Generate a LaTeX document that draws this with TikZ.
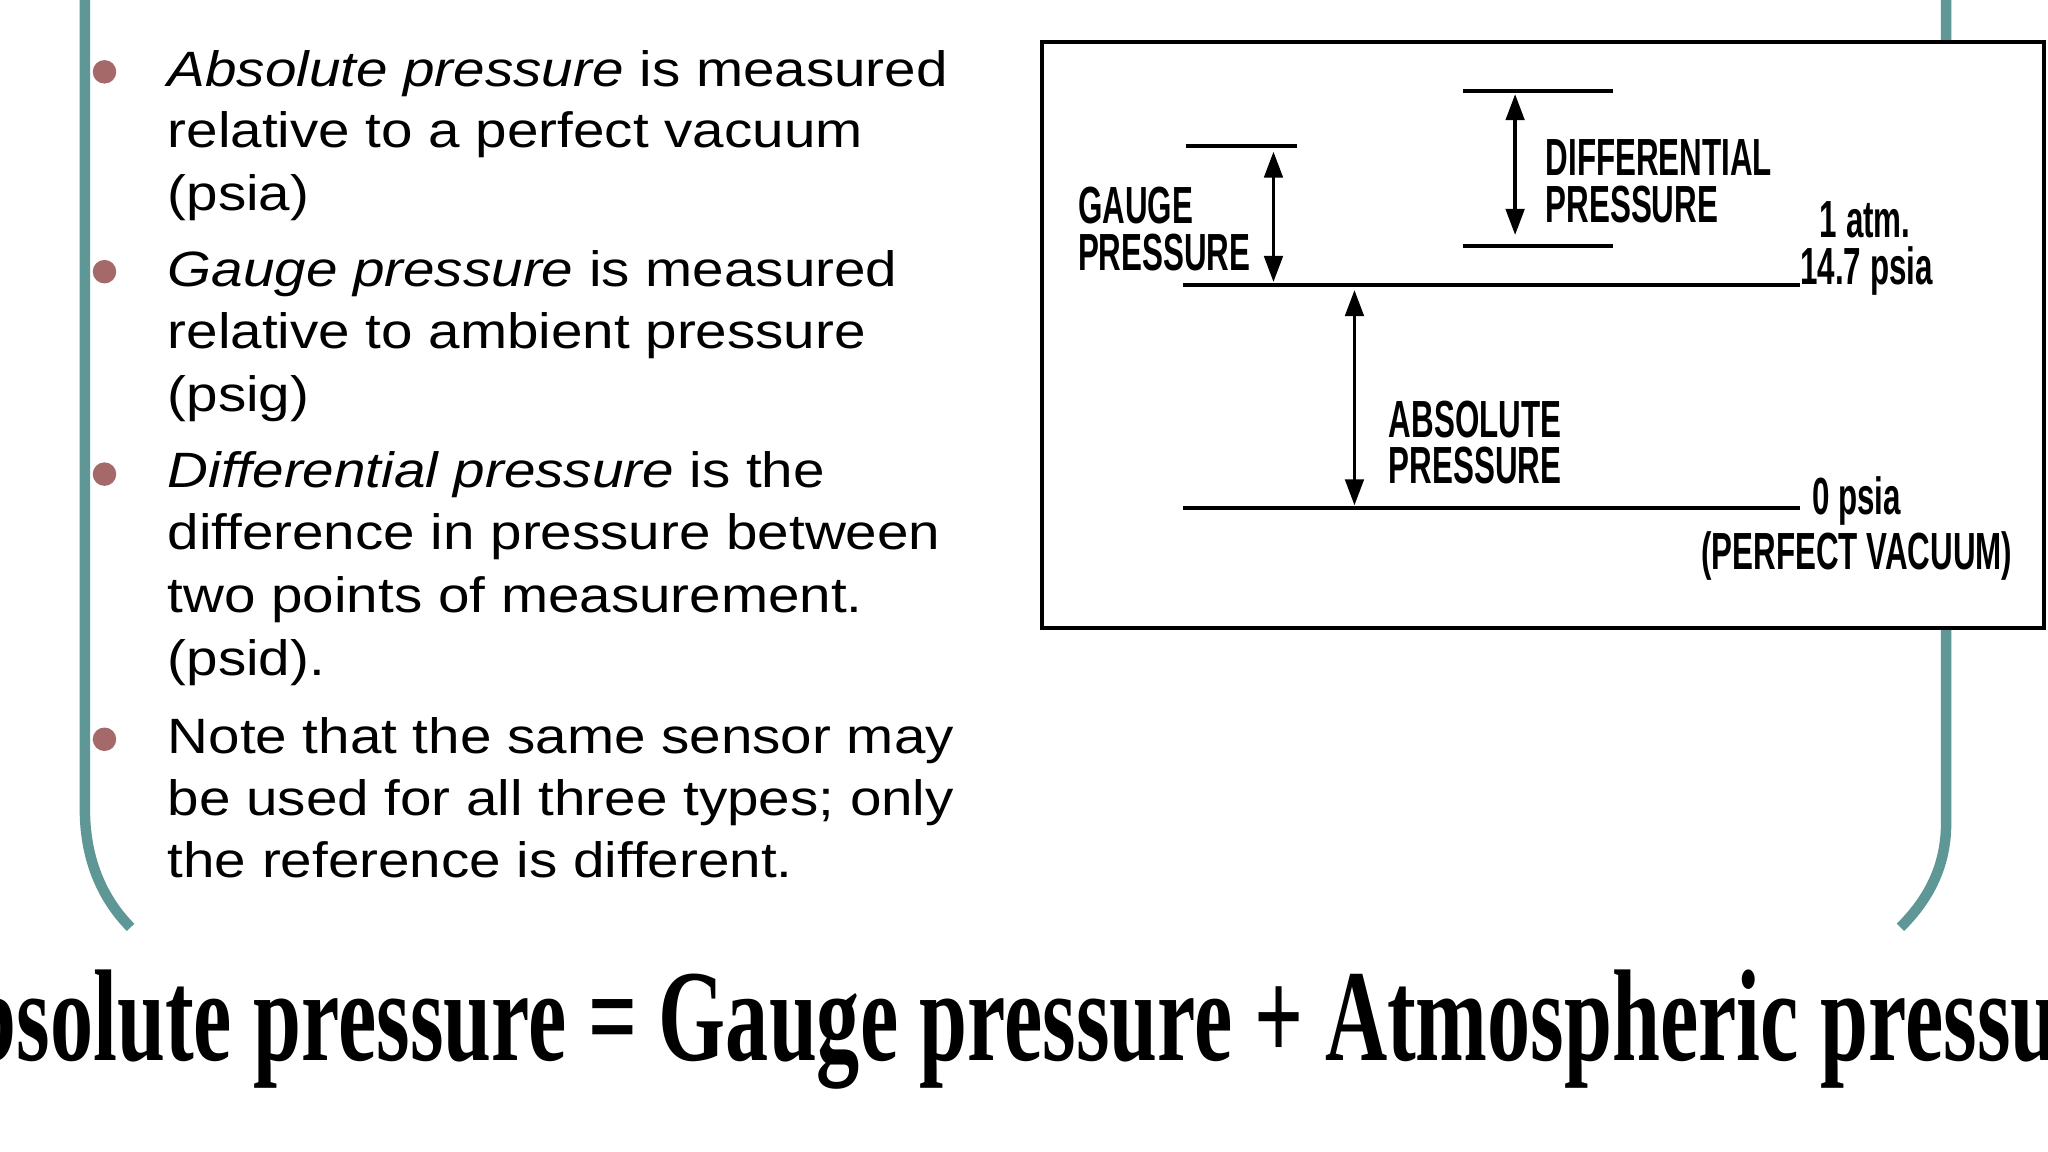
\documentclass[tikz,border=0pt]{standalone}
\usepackage{fontspec}
\setmainfont{Liberation Sans}
\newfontfamily\timesf{Liberation Serif}
\usetikzlibrary{arrows.meta}
\definecolor{frame}{RGB}{95,150,150}
\definecolor{dot}{RGB}{165,105,105}
\newcommand{\bw}[1]{\scalebox{1.14}[1]{#1}}
\newcommand{\lw}[1]{\scalebox{0.6}[1]{#1}}
\begin{document}
\begin{tikzpicture}[x=0.5pt,y=-0.5pt,
  body/.style={anchor=base west,inner sep=0,font=\fontsize{19}{23}\selectfont},
  lab/.style={anchor=base west,inner sep=0,font=\bfseries\fontsize{20}{24}\selectfont},
  lvl/.style={line width=1.5pt},
  dim/.style={line width=1.5pt,{Triangle[length=10pt,width=7pt]}-{Triangle[length=10pt,width=7pt]}}]
\useasboundingbox (0,0) rectangle (1568,882);
\fill[white] (0,0) rectangle (1568,882);
% frame
\draw[frame,line width=4pt] (65,0) -- (65,620) .. controls (65,660) and (80,690) .. (100,710);
\draw[frame,line width=4pt] (1490,0) -- (1490,630) .. controls (1490,665) and (1475,690) .. (1455,710);
% bullets
\foreach \y/\n in {55/b1,208/b2,363/b3,566/b4} \fill[dot] (80,\y) circle (4.5pt) node (\n) {};
% text
\node[body] (t1) at (128,66) {\bw{\textit{Absolute pressure} is measured}};
\node[body] (t2) at (128,113) {\bw{relative to a perfect vacuum}};
\node[body] (t3) at (128,161) {\bw{(psia)}};
\node[body] (t4) at (128,219) {\bw{\textit{Gauge pressure} is measured}};
\node[body] (t5) at (128,267) {\bw{relative to ambient pressure}};
\node[body] (t6) at (128,315) {\bw{(psig)}};
\node[body] (t7) at (128,373) {\bw{\textit{Differential pressure} is the}};
\node[body] (t8) at (128,421) {\bw{difference in pressure between}};
\node[body] (t9) at (128,469) {\bw{two points of measurement.}};
\node[body] (t10) at (128,517) {\bw{(psid).}};
\node[body] (t11) at (128,577) {\bw{Note that the same sensor may}};
\node[body] (t12) at (128,624) {\bw{be used for all three types; only}};
\node[body] (t13) at (128,672) {\bw{the reference is different.}};
% diagram box
\fill[white] (798,32) rectangle (1565,481);
\draw[line width=1.6pt] (798,32) rectangle (1565,481);
\coordinate (d1) at (1120,70); \coordinate (d2) at (1235,70);
\coordinate (d3) at (1120,188); \coordinate (d4) at (1235,188);
\coordinate (g1) at (908,112); \coordinate (g2) at (993,112);
\coordinate (a1) at (906,218); \coordinate (a2) at (1378,218);
\coordinate (v1) at (906,389); \coordinate (v2) at (1378,389);
\draw[lvl] (d1)--(d2); \draw[lvl] (d3)--(d4);
\draw[lvl] (g1)--(g2); \draw[lvl] (a1)--(a2); \draw[lvl] (v1)--(v2);
\coordinate (da) at (1160,72); \coordinate (db) at (1160,180);
\coordinate (ga) at (975,116); \coordinate (gb) at (975,216);
\coordinate (aa) at (1037,222); \coordinate (ab) at (1037,387);
\draw[dim] (da)--(db); \draw[dim] (ga)--(gb); \draw[dim] (aa)--(ab);
\node[lab] (l1) at (825,171) {\lw{GAUGE}};
\node[lab] (l2) at (825,207) {\lw{PRESSURE}};
\node[lab] (l3) at (1183,134) {\lw{DIFFERENTIAL}};
\node[lab] (l4) at (1183,170) {\lw{PRESSURE}};
\node[lab] (l5) at (1393,182) {\lw{1 atm.}};
\node[lab] (l6) at (1378,218) {\lw{14.7 psia}};
\node[lab] (l7) at (1063,335) {\lw{ABSOLUTE}};
\node[lab] (l8) at (1063,370) {\lw{PRESSURE}};
\node[lab] (l9) at (1387,394) {\lw{0 psia}};
\node[lab] (l10) at (1302,436) {\lw{(PERFECT VACUUM)}};
% equation
\node[anchor=base,inner sep=0,font=\timesf\bfseries\fontsize{50}{60}\selectfont] (eq) at (781,812) {\scalebox{0.66}[1]{Absolute pressure = Gauge pressure + Atmospheric pressure}};
\end{tikzpicture}
\end{document}
